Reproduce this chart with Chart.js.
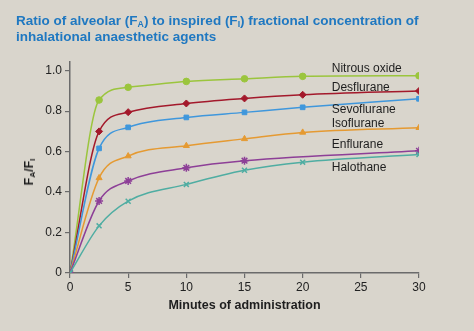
<!DOCTYPE html>
<html>
	<head>
		<style>
			html, body {
				margin: 0;
				padding: 0;
				background: #d9d5cc;
			}
			#wrap {
				position: relative;
				width: 474px;
				height: 331px;
				overflow: hidden;
				font-family: "Liberation Sans", Arial, sans-serif;
			}
			#title {
				position: absolute;
				left: 16px;
				top: 13px;
				font-size: 13.5px;
				font-weight: bold;
				line-height: 16px;
				color: #1f78c1;
			}
			#title sub, #ytitle sub {
				font-size: 65%;
				vertical-align: -2px;
				line-height: 0;
			}
			#ytitle {
				position: absolute;
				left: 29px;
				top: 172px;
				font-size: 12.5px;
				font-weight: bold;
				color: #1e1e1e;
				white-space: nowrap;
				transform: translate(-50%, -50%) rotate(-90deg);
			}
			#canvas1 {
				position: absolute;
				left: 0;
				top: 0;
			}
		</style>
		<title>Inhalational anaesthetic uptake</title>
	</head>
	<body>
		<div id="wrap">
			<canvas id="canvas1" width="474" height="331"></canvas>
			<div id="title">Ratio of alveolar (F<sub>A</sub>) to inspired (F<sub>I</sub>) fractional concentration of<br>inhalational anaesthetic agents</div>
			<div id="ytitle">F<sub>A</sub>/F<sub>I</sub></div>
		</div>
		<script src="https://cdn.jsdelivr.net/npm/chart.js@4.4.0/dist/chart.umd.min.js"></script>
		<script>
			var minutes = [0, 2.5, 5, 10, 15, 20, 30];

			var nitrousOxide = [0, 0.855, 0.918, 0.947, 0.960, 0.972, 0.975];
			var desflurane   = [0, 0.700, 0.795, 0.838, 0.863, 0.881, 0.900];
			var sevoflurane  = [0, 0.616, 0.720, 0.769, 0.794, 0.819, 0.861];
			var isoflurane   = [0, 0.470, 0.578, 0.629, 0.663, 0.695, 0.718];
			var enflurane    = [0, 0.356, 0.455, 0.520, 0.555, null, 0.604];
			var halothane    = [0, 0.233, 0.355, 0.438, 0.508, 0.548, 0.586];

			var agentNames = ["Nitrous oxide", "Desflurane", "Sevoflurane", "Isoflurane", "Enflurane", "Halothane"];
			var yTicks = [0, 0.2, 0.4, 0.6, 0.8, 1.0];

			// where each agent name sits, in chart units
			var nameX = [22.5, 22.5, 22.5, 22.5, 22.5, 22.5];
			var nameY = [1.012, 0.918, 0.805, 0.740, 0.633, 0.520];

			function series(values) {
				var out = [];
				for (var i = 0; i < minutes.length; i++) {
					out.push({ x: minutes[i], y: values[i] });
				}
				return out;
			}

			function line(name, values, color, style, radius) {
				return {
					label: name,
					data: series(values),
					borderColor: color,
					backgroundColor: color,
					borderWidth: 1.5,
					pointStyle: style,
					pointRadius: radius,
					pointBorderWidth: style == "star" || style == "crossRot" ? 1.5 : 1,
					cubicInterpolationMode: "monotone",
					spanGaps: true,
					fill: false
				};
			}

			var nameLabels = {
				id: "nameLabels",
				afterDatasetsDraw: function (chart) {
					var ctx = chart.ctx;
					var xs = chart.scales.x, ys = chart.scales.y;
					ctx.save();
					ctx.font = "12px 'Liberation Sans', Arial, sans-serif";
					ctx.fillStyle = "#1e1e1e";
					ctx.textAlign = "left";
					ctx.textBaseline = "middle";
					for (var i = 0; i < agentNames.length; i++) {
						ctx.fillText(agentNames[i], xs.getPixelForValue(nameX[i]), ys.getPixelForValue(nameY[i]));
					}
					ctx.restore();
				}
			};

			var ctx1 = document.getElementById("canvas1").getContext("2d");

			var axisColor = "#6b6b6b";
			var tickFont = { family: "'Liberation Sans', Arial, sans-serif", size: 12 };

			var Chart1 = new Chart(ctx1, {
				type: "line",
				data: {
					datasets: [
						line(agentNames[5], halothane, "#4fada2", "crossRot", 3.5),
						line(agentNames[4], enflurane, "#8d3f97", "star", 4),
						line(agentNames[3], isoflurane, "#e59a32", "triangle", 3.5),
						line(agentNames[2], sevoflurane, "#3f97dc", "rect", 3.3),
						line(agentNames[1], desflurane, "#a3192b", "rectRot", 3.5),
						line(agentNames[0], nitrousOxide, "#9bc53d", "circle", 3.3)
					]
				},
				plugins: [nameLabels],
				options: {
					animation: false,
					responsive: false,
					layout: {
						padding: { left: 10, top: 62, right: 55, bottom: 18 }
					},
					plugins: {
						legend: { display: false },
						tooltip: { enabled: false }
					},
					scales: {
						x: {
							type: "linear",
							min: 0,
							max: 30,
							afterBuildTicks: function (scale) {
								scale.ticks = [0, 5, 10, 15, 20, 25, 30].map(function (v) { return { value: v }; });
							},
							afterFit: function (scale) {
								scale.height = 40;
							},
							border: { display: true, color: axisColor, width: 1.5 },
							grid: {
								display: true,
								drawOnChartArea: false,
								drawTicks: true,
								tickLength: 5,
								color: axisColor,
								lineWidth: 1.2
							},
							ticks: {
								color: "#222",
								font: tickFont,
								padding: 2,
								maxRotation: 0
							},
							title: {
								display: true,
								text: "Minutes of administration",
								color: "#1e1e1e",
								font: { family: "'Liberation Sans', Arial, sans-serif", size: 12.5, weight: "bold" },
								padding: { top: 6, bottom: 0 }
							}
						},
						y: {
							type: "linear",
							min: 0,
							max: 1.043,
							afterBuildTicks: function (scale) {
								scale.ticks = yTicks.map(function (v) { return { value: v }; });
							},
							afterFit: function (scale) {
								scale.width = 60;
							},
							border: { display: true, color: axisColor, width: 1.5 },
							grid: {
								display: true,
								drawOnChartArea: false,
								drawTicks: true,
								tickLength: 5,
								color: axisColor,
								lineWidth: 1.2
							},
							ticks: {
								color: "#222",
								font: tickFont,
								padding: 3,
								callback: function (v) {
									return v === 0 ? "0" : v.toFixed(1);
								}
							}
						}
					}
				}
			});
		</script>
	</body>
</html>
